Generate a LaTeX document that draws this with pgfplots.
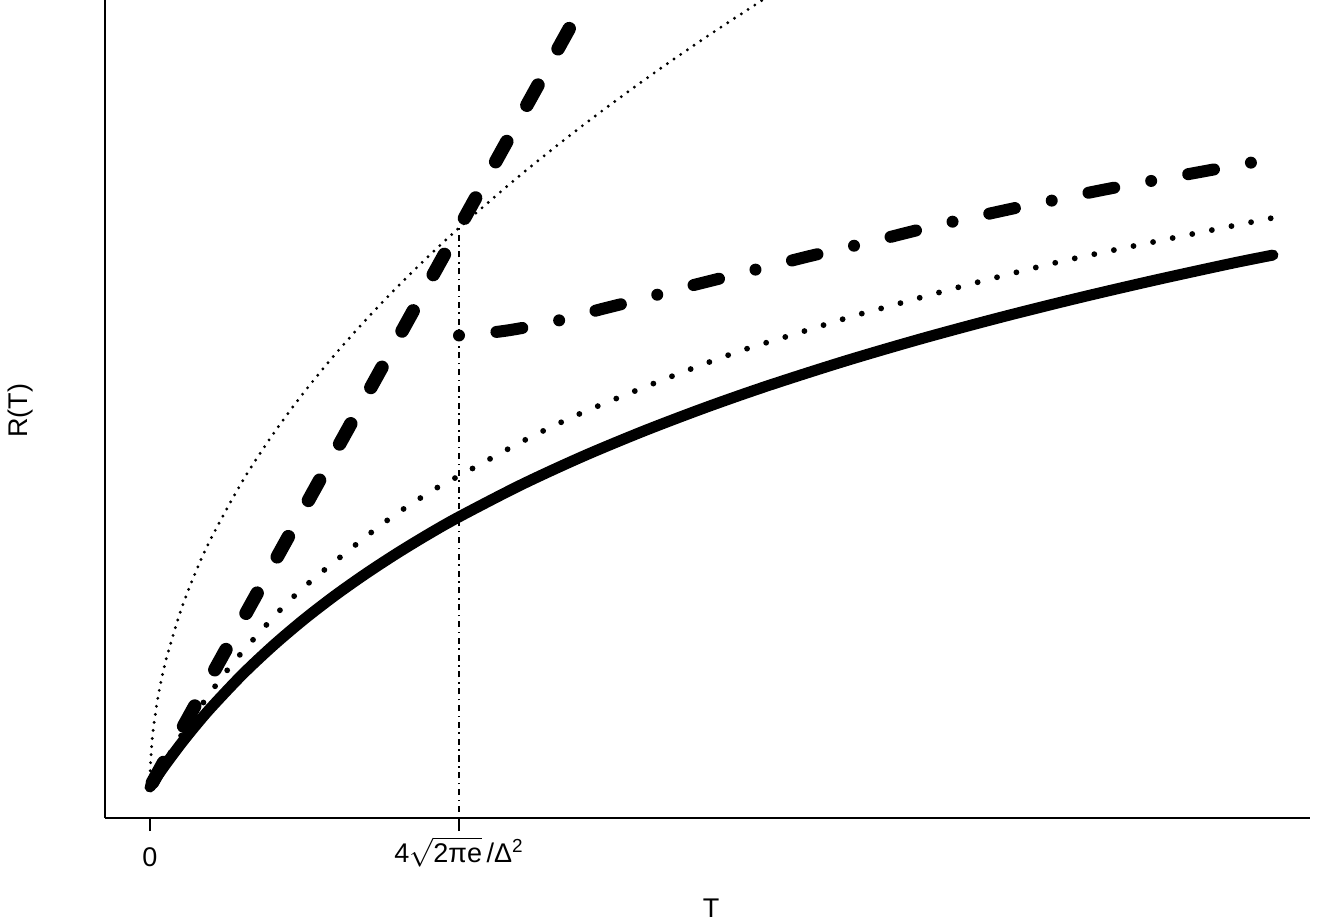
\documentclass[border=0pt]{standalone}
\usepackage{fontspec}
\setmainfont{Liberation Sans}
\usepackage{pgfplots}
\pgfplotsset{compat=1.18}
\newcommand\lblfont{\fontsize{13.5}{16}\selectfont}
\begin{document}
\begin{tikzpicture}
\useasboundingbox (-52.5pt,-51.5pt) rectangle (608.5pt,409pt);
\begin{axis}[
  at={(0,0)}, anchor=south west,
  scale only axis, width=602.5pt, height=409pt,
  xmin=-0.14563, xmax=3.75405, ymin=0, ymax=8.18,
  axis x line*=bottom, axis y line*=left,
  axis line style={line width=0.8pt, -},
  xtick={0,1},
  xticklabels={0,{\raisebox{1.9pt}{4$\sqrt{\mbox{2πe}}$\,/Δ\textsuperscript{2}}}},
  ytick=\empty,
  tick align=outside, major tick length=6.5pt,
  tick style={line width=0.8pt, black},
  xticklabel style={font=\lblfont, anchor=base, yshift=-17.75pt, inner sep=0pt},
  xlabel={T}, ylabel={R(T)},
  every axis x label/.style={at={(axis description cs:0.5029,-0.1216)}, anchor=base, inner sep=0pt, font=\lblfont},
  every axis y label/.style={at={(axis description cs:-0.06473,0.4976)}, anchor=base, rotate=90, inner sep=0pt, font=\lblfont},
]
% thick solid
\addplot[black, mark=none, line width=5.5pt, line cap=round, line join=round, smooth] coordinates {
(0,0.31) (0.02,0.402) (0.05,0.534) (0.1,0.741) (0.15,0.933) (0.2,1.112) (0.3,1.438) (0.4,1.728) (0.5,1.990) (0.6,2.228) (0.7,2.446) (0.8,2.648) (0.9,2.836) (1.0,3.011) (1.2,3.330) (1.4,3.615) (1.6,3.872) (1.8,4.107) (2.0,4.323) (2.25,4.570) (2.5,4.796) (2.75,5.004) (3.0,5.197) (3.25,5.377) (3.5,5.546) (3.634,5.629)
};
% medium dotted
\addplot[black, mark=none, line width=2.9pt, line cap=round, dash pattern=on 0pt off 10pt, smooth] coordinates {
(0,0.31) (0.05,0.57) (0.1,0.82) (0.1877,1.22) (0.2686,1.55) (0.356,1.86) (0.4434,2.15) (0.5405,2.42) (0.7346,2.90) (0.835,3.12) (0.9385,3.32) (0.9935,3.41) (1.2136,3.78) (1.3819,4.03) (1.5534,4.25) (1.7249,4.46) (1.9094,4.67) (2.0874,4.84) (2.2654,5.01) (2.3948,5.12) (2.644,5.33) (2.9547,5.57) (3.2783,5.78) (3.5987,5.98) (3.634,6.00)
};
% thin dotted
\addplot[black, mark=none, line width=1.6pt, line cap=round, dash pattern=on 0pt off 4.05pt, smooth] coordinates {
(0,0.31) (0.001,0.487) (0.0025,0.590) (0.005,0.705) (0.01,0.869) (0.025,1.194) (0.05,1.560) (0.1,2.078) (0.15,2.475) (0.2,2.810) (0.3,3.372) (0.4,3.846) (0.5,4.263) (0.6,4.640) (0.7,4.987) (0.8,5.310) (0.9,5.613) (1.0,5.900) (1.2,6.433) (1.4,6.924) (1.6,7.381) (1.8,7.810) (2.0,8.215)
};
% thick dashed line
\addplot[black, mark=none, line width=6.75pt, line cap=round, dash pattern=on 11.5pt off 20.75pt, dash phase=29.75pt] coordinates {
(0,0.31) (1.47,8.527)
};
% thick dash-dot
\addplot[black, mark=none, line width=6pt, line cap=round, dash pattern=on 0pt off 18.8pt on 13.1pt off 18.8pt, smooth] coordinates {
(1.0,4.825) (1.1327,4.865) (1.2298,4.915) (1.3430,4.99) (1.4563,5.085) (1.5534,5.16) (1.6505,5.24) (1.7476,5.32) (1.8447,5.395) (1.9417,5.47) (2.0388,5.545) (2.1359,5.62) (2.2330,5.69) (2.3301,5.76) (2.4272,5.835) (2.5243,5.91) (2.6214,5.98) (2.7184,6.045) (2.8155,6.11) (2.9126,6.17) (3.0097,6.235) (3.1068,6.295) (3.2039,6.35) (3.3010,6.405) (3.3981,6.46) (3.4951,6.515) (3.634,6.594)
};
% thin vertical dash-dot
\addplot[black, mark=none, line width=0.8pt, dash pattern=on 0.75pt off 2.3pt on 3.05pt off 2.3pt] coordinates {
(1,0) (1,5.9)
};
\end{axis}
\end{tikzpicture}
\end{document}
